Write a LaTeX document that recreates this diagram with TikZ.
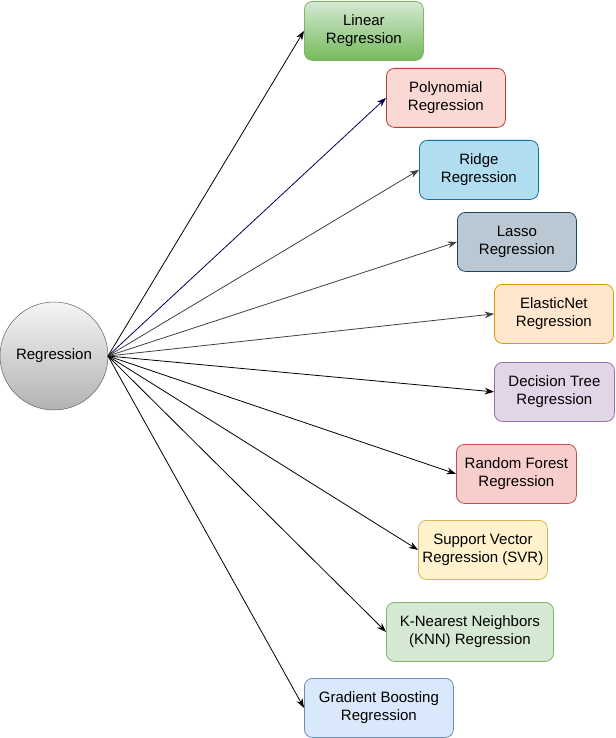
\documentclass[tikz,border=0pt]{standalone}
\usepackage{fontspec}
\setmainfont{Liberation Sans}
\usetikzlibrary{arrows.meta}
\begin{document}
\begin{tikzpicture}[x=0.75pt,y=-0.75pt,
  box/.style={draw=#1,rounded corners=6pt,line width=0.6pt,align=center,font=\fontsize{11.25pt}{13.5pt}\selectfont,inner sep=0pt},
  arr/.style={-{Stealth[length=7pt,width=5pt]},line width=0.6pt,draw=#1},
  arr/.default={black!85}]
\useasboundingbox (0,0) rectangle (615,738);
\node[circle,draw=black!60,minimum size=108*0.75pt,top color=white!96!black,bottom color=black!30,font=\fontsize{11.25pt}{13.5pt}\selectfont] (r) at (54,356) {Regression};
\coordinate (s) at (108,356);
\def\mk#1#2#3#4#5#6#7#8{\node[box=#6,fill=#5,minimum width=(#2-#1)*0.75pt,minimum height=(#4-#3)*0.75pt,anchor=north west] (#7) at (#1,#3) {#8};}
\definecolor{c1}{HTML}{82B366}\definecolor{f1}{HTML}{B9E0A5}
\definecolor{c2}{HTML}{AE4132}\definecolor{f2}{HTML}{FAD9D5}
\definecolor{c3}{HTML}{10739E}\definecolor{f3}{HTML}{B1DDF0}
\definecolor{c4}{HTML}{23445D}\definecolor{f4}{HTML}{BAC8D3}
\definecolor{c5}{HTML}{D79B00}\definecolor{f5}{HTML}{FFE6CC}
\definecolor{c6}{HTML}{9673A6}\definecolor{f6}{HTML}{E1D5E7}
\definecolor{c7}{HTML}{B85450}\definecolor{f7}{HTML}{F8CECC}
\definecolor{c8}{HTML}{D6B656}\definecolor{f8}{HTML}{FFF2CC}
\definecolor{f9}{HTML}{D5E8D4}
\definecolor{c10}{HTML}{6C8EBF}\definecolor{f10}{HTML}{DAE8FC}
\node[box=c1,top color=f9,bottom color=c1!90!green,minimum width=119*0.75pt,minimum height=59*0.75pt,anchor=north west] (b1) at (304,1) {Linear\\Regression};
\mk{386}{505}{68}{127}{f2}{c2}{b2}{Polynomial\\Regression}
\mk{419}{538}{140}{199}{f3}{c3}{b3}{Ridge\\Regression}
\mk{457}{576}{212}{271}{f4}{c4}{b4}{Lasso\\Regression}
\mk{494}{613}{284}{343}{f5}{c5}{b5}{ElasticNet\\Regression}
\mk{494}{614}{362}{421}{f6}{c6}{b6}{Decision Tree\\Regression}
\mk{456}{576}{444}{503}{f7}{c7}{b7}{Random Forest\\Regression}
\mk{418}{547}{520}{579}{f8}{c8}{b8}{Support Vector\\Regression (SVR)}
\mk{386}{553}{602}{661}{f9}{c1}{b9}{K-Nearest Neighbors\\(KNN) Regression}
\mk{304}{453}{678}{737}{f10}{c10}{b10}{Gradient Boosting\\Regression}
\draw[arr=black] (s) -- (b1.west);
\draw[arr={blue!30!black}] (s) -- (b2.west);
\foreach \i in {3,4,5} \draw[arr={black!75}] (s) -- (b\i.west);
\foreach \i in {6,7,8,9,10} \draw[arr=black] (s) -- (b\i.west);
\end{tikzpicture}
\end{document}
